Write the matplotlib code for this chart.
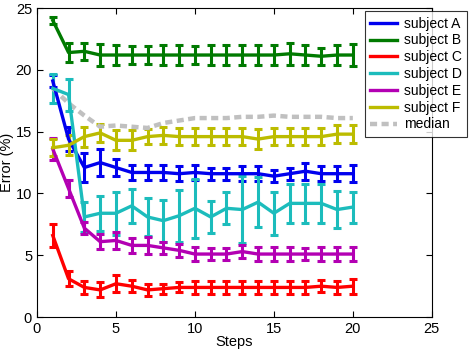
import matplotlib
matplotlib.use('Agg')
import matplotlib.pyplot as plt
from matplotlib.lines import Line2D
import numpy as np

plt.rcParams['font.family'] = ['Liberation Sans', 'DejaVu Sans']
plt.rcParams['font.size'] = 10

steps = np.arange(1, 21)

sub_a = [19.1, 14.4, 12.1, 12.5, 12.1, 11.7, 11.7, 11.7, 11.6, 11.7,
         11.6, 11.6, 11.6, 11.6, 11.4, 11.6, 11.8, 11.6, 11.6, 11.6]
err_a = [0.5, 1.0, 1.2, 1.1, 0.7, 0.6, 0.6, 0.6, 0.6, 0.6,
         0.5, 0.5, 0.6, 0.6, 0.5, 0.5, 0.7, 0.6, 0.6, 0.7]

sub_b = [24.0, 21.4, 21.5, 21.2, 21.2, 21.2, 21.2, 21.2, 21.2, 21.2,
         21.2, 21.2, 21.2, 21.2, 21.2, 21.3, 21.2, 21.1, 21.2, 21.2]
err_b = [0.3, 0.8, 0.7, 0.9, 0.8, 0.7, 0.7, 0.8, 0.8, 0.7,
         0.8, 0.8, 0.8, 0.8, 0.8, 0.9, 0.8, 0.7, 0.8, 0.9]

sub_c = [6.6, 3.1, 2.4, 2.2, 2.7, 2.5, 2.2, 2.3, 2.4, 2.4,
         2.4, 2.4, 2.4, 2.4, 2.4, 2.4, 2.4, 2.5, 2.4, 2.5]
err_c = [0.9, 0.6, 0.5, 0.6, 0.7, 0.5, 0.5, 0.4, 0.4, 0.5,
         0.5, 0.5, 0.5, 0.5, 0.5, 0.5, 0.5, 0.5, 0.5, 0.6]

sub_d = [18.5, 18.0, 8.1, 8.4, 8.4, 9.0, 8.1, 7.8, 8.2, 8.8,
         8.1, 8.8, 8.7, 9.3, 8.4, 9.2, 9.2, 9.2, 8.7, 8.9]
err_d = [1.2, 1.3, 1.2, 1.4, 1.75, 1.4, 1.5, 1.7, 2.1, 2.4,
         1.3, 1.3, 2.7, 2.0, 1.75, 1.6, 1.55, 1.55, 1.5, 1.25]

sub_e = [13.6, 10.4, 7.2, 6.1, 6.2, 5.8, 5.8, 5.6, 5.4, 5.1,
         5.1, 5.1, 5.3, 5.1, 5.1, 5.1, 5.1, 5.1, 5.1, 5.1]
err_e = [0.9, 0.7, 0.5, 0.6, 0.7, 0.6, 0.7, 0.5, 0.5, 0.6,
         0.5, 0.5, 0.5, 0.6, 0.6, 0.6, 0.5, 0.6, 0.6, 0.6]

sub_f = [13.7, 13.9, 14.6, 14.9, 14.3, 14.3, 14.6, 14.7, 14.6, 14.6,
         14.6, 14.6, 14.6, 14.4, 14.6, 14.6, 14.6, 14.6, 14.8, 14.8]
err_f = [0.7, 0.8, 0.8, 0.7, 0.8, 0.8, 0.6, 0.7, 0.7, 0.7,
         0.7, 0.7, 0.7, 0.8, 0.7, 0.7, 0.7, 0.7, 0.7, 0.7]

median = [18.5, 17.3, 16.3, 15.4, 15.5, 15.4, 15.3, 15.7, 15.9, 16.1,
          16.1, 16.1, 16.2, 16.2, 16.3, 16.2, 16.2, 16.2, 16.1, 16.1]

series = [
    ('subject A', sub_a, err_a, '#0000ee'),
    ('subject B', sub_b, err_b, '#007a00'),
    ('subject C', sub_c, err_c, '#ff0000'),
    ('subject D', sub_d, err_d, '#1cbcbc'),
    ('subject E', sub_e, err_e, '#b300b3'),
    ('subject F', sub_f, err_f, '#bcbc00'),
]

fig = plt.figure(figsize=(4.74, 3.5), dpi=100)
ax = fig.add_axes([0.078, 0.094, 0.833, 0.883])

handles = []
for name, vals, errs, col in series:
    ax.errorbar(steps, vals, yerr=errs, color=col, lw=2.4, elinewidth=2.2,
                capsize=3, capthick=2.2)
    handles.append(Line2D([], [], color=col, lw=2.4, label=name))
ax.plot(steps, median, color='#c0c0c0', lw=3.2, ls=(0, (1.6, 1)))
handles.append(Line2D([], [], color='#c0c0c0', lw=3.2, ls=(0, (1.6, 1)),
                      label='median'))

ax.set_xlim(0, 25)
ax.set_ylim(0, 25)
ax.set_xticks([0, 5, 10, 15, 20, 25])
ax.set_yticks([0, 5, 10, 15, 20, 25])
ax.tick_params(direction='in', top=True, right=True, labelsize=10.5, length=4)
ax.set_xlabel('Steps', fontsize=10.5, labelpad=-1)
ax.set_ylabel('Error (%)', fontsize=10.5, labelpad=1)

leg = ax.legend(handles=handles, loc='upper left',
                bbox_to_anchor=(0.83, 0.99), fontsize=10,
                frameon=True, fancybox=False, edgecolor='black',
                handlelength=1.95, handletextpad=0.45, labelspacing=0.2,
                borderpad=0.4, borderaxespad=0)
leg.get_frame().set_linewidth(0.8)

fig.savefig('out.png', dpi=100)
